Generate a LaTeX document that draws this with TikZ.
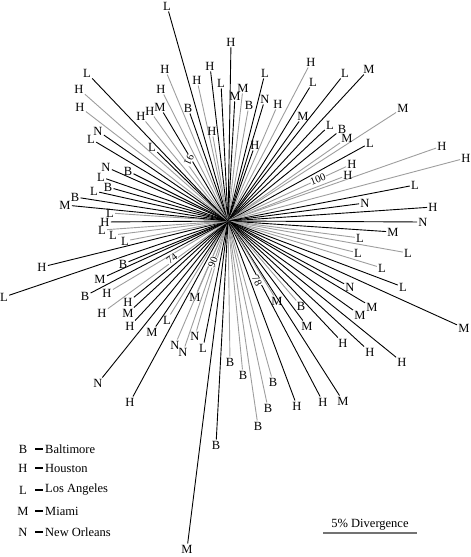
\documentclass[tikz,border=0pt]{standalone}
\usepackage{fontspec}
\setmainfont{Liberation Serif}
\begin{document}
\begin{tikzpicture}[x=1pt,y=-1pt,
  leaf/.style={inner sep=1.2pt,font=\fontsize{12.5}{14}\selectfont},
  blk/.style={draw=black,line width=0.9pt},
  gry/.style={draw=black!38,line width=0.9pt},
  boot/.style={inner sep=0pt,font=\fontsize{10.5}{12}\selectfont},
  legtxt/.style={inner sep=0pt,font=\fontsize{12.5}{14}\selectfont}]
\useasboundingbox (0,0) rectangle (471,557);
\coordinate (hub) at (228,221);
\foreach \x/\y/\t/\c [count=\i] in {
 167/6/L/blk, 231/42/H/blk, 165/69/H/gry, 210/66/H/blk, 197/80/H/gry,
 221/83/L/blk, 243/88/M/gry, 235/96/M/blk, 249/105/B/gry, 265/73/L/blk,
 265/99/N/blk, 278/104/H/gry, 212/131/H/gry, 255/145/H/blk, 188/108/B/blk,
 161/89/H/gry, 160/107/M/blk, 150/111/H/gry, 141/116/H/gry, 152/147/L/blk,
 311/62/H/gry, 313/82/L/blk, 303/116/M/blk, 345/73/L/blk, 369/69/M/blk,
 403/108/M/gry, 330/125/L/blk, 342/129/B/blk, 347/138/M/gry, 370/143/L/blk,
 442/146/H/gry, 466/158/H/gry, 352/164/H/gry, 348/175/H/gry,
 415/185/L/blk, 365/203/N/blk, 433/207/H/blk, 423/222/N/blk, 393/232/M/blk,
 360/238/L/gry, 408/253/L/gry, 358/253/L/gry, 382/268/L/gry, 403/287/L/blk,
 350/287/N/blk, 372/307/M/blk, 360/315/M/blk, 464/328/M/blk, 343/343/H/blk,
 370/352/H/blk, 402/362/H/blk, 323/402/H/blk, 343/401/M/blk, 277/301/M/gry,
 301/306/B/gry, 307/326/M/blk,
 230/362/B/gry, 243/375/B/gry, 273/382/B/gry, 268/408/B/gry, 258/426/B/gry,
 297/406/H/blk, 216/445/B/blk, 187/549/M/blk,
 195/297/M/gry, 167/320/L/gry, 152/332/M/blk, 175/345/N/gry, 183/352/N/gry,
 195/336/N/gry, 203/348/L/blk, 98/383/N/blk, 130/402/H/blk, 130/326/H/blk,
 128/313/M/blk, 128/302/H/blk, 102/313/H/gry, 107/293/H/gry, 85/296/B/blk,
 100/279/M/blk, 123/264/B/blk, 4/297/L/blk, 42/267/H/blk,
 125/241/L/gry, 113/235/L/gry, 102/230/L/gry, 105/222/H/blk, 110/213/L/gry,
 65/205/M/blk, 75/197/B/blk, 94/191/L/blk, 108/187/B/blk, 101/177/L/blk,
 106/167/N/blk, 128/171/B/blk, 98/131/N/blk, 91/139/L/blk, 80/107/H/gry,
 79/89/H/gry, 87/73/L/blk}
{
  \node[leaf] (n\i) at (\x,\y) {\t};
  \draw[\c] (hub) -- (n\i);
}
% bootstrap values
\node[boot,rotate=-115,fill=white,inner sep=0.3pt] (b91) at (189,160) {91};
\node[boot,rotate=22,fill=white,inner sep=0.3pt] (b100) at (318,179) {100};
\node[boot,rotate=38,fill=white,inner sep=0.3pt] (b74) at (172,259) {74};
\node[boot,rotate=68,fill=white,inner sep=0.3pt] (b90) at (213,262) {90};
\node[boot,rotate=-62,fill=white,inner sep=0.3pt] (b78) at (257,281) {78};
% legend
\foreach \k/\nm/\yy in {B/Baltimore/449, H/Houston/468, L/Los Angeles/490, M/Miami/511, N/New Orleans/532}{
  \node[legtxt] (lk\k) at (23,\yy) {\k};
  \draw[line width=2.2pt] (35,\yy) -- (43,\yy);
  \node[legtxt,anchor=west] (lt\k) at (45,\yy) {\nm};
}
% scale bar
\node[legtxt] (sc) at (370,525) {5\% Divergence};
\draw[black!55,line width=1.6pt] (323,533) -- (417,533);
\end{tikzpicture}
\end{document}
